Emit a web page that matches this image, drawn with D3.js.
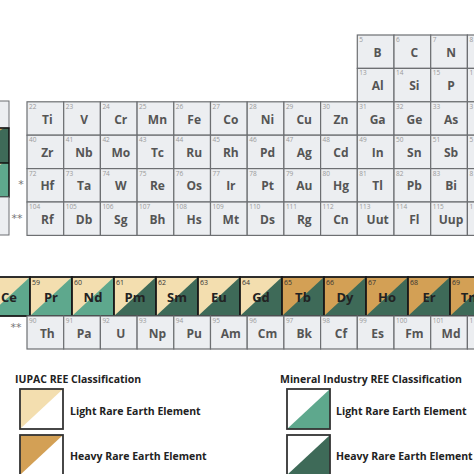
<!DOCTYPE html>
<html><head><meta charset="utf-8">
<script src="https://cdn.jsdelivr.net/npm/d3@7"></script>
<style>body{margin:0;background:#fff}svg{display:block}</style>
</head><body><svg id="c" width="474" height="474"></svg>
<script>
// main grid: [symbol, number, column, row]
const mainSymbols = [
 ["B",5,9,0],["C",6,10,0],["N",7,11,0],["O",8,12,0],
 ["Al",13,9,1],["Si",14,10,1],["P",15,11,1],["S",16,12,1],
 ["Ti",22,0,2],["V",23,1,2],["Cr",24,2,2],["Mn",25,3,2],["Fe",26,4,2],["Co",27,5,2],["Ni",28,6,2],["Cu",29,7,2],["Zn",30,8,2],["Ga",31,9,2],["Ge",32,10,2],["As",33,11,2],["Se",34,12,2],
 ["Zr",40,0,3],["Nb",41,1,3],["Mo",42,2,3],["Tc",43,3,3],["Ru",44,4,3],["Rh",45,5,3],["Pd",46,6,3],["Ag",47,7,3],["Cd",48,8,3],["In",49,9,3],["Sn",50,10,3],["Sb",51,11,3],["Te",52,12,3],
 ["Hf",72,0,4],["Ta",73,1,4],["W",74,2,4],["Re",75,3,4],["Os",76,4,4],["Ir",77,5,4],["Pt",78,6,4],["Au",79,7,4],["Hg",80,8,4],["Tl",81,9,4],["Pb",82,10,4],["Bi",83,11,4],["Po",84,12,4],
 ["Rf",104,0,5],["Db",105,1,5],["Sg",106,2,5],["Bh",107,3,5],["Hs",108,4,5],["Mt",109,5,5],["Ds",110,6,5],["Rg",111,7,5],["Cn",112,8,5],["Uut",113,9,5],["Fl",114,10,5],["Uup",115,11,5],["Lv",116,12,5]
];
const lanthanides = ["Ce","Pr","Nd","Pm","Sm","Eu","Gd","Tb","Dy","Ho","Er","Tm"];
const lanthNumbers = [58,59,60,61,62,63,64,65,66,67,68,69];
const iupacClass = ["L","L","L","L","L","L","L","H","H","H","H","H"];
const industryClass = ["L","L","L","H","H","H","H","H","H","H","H","H"];
const actinides = ["Th","Pa","U","Np","Pu","Am","Cm","Bk","Cf","Es","Fm","Md","No"];
const actNumbers = [90,91,92,93,94,95,96,97,98,99,100,101,102];
const legendLabels = ["Light Rare Earth Element","Heavy Rare Earth Element"];

const col = {iupacL:"#f3deaf", iupacH:"#d3a055", indL:"#5ea88d", indH:"#3e6a58", cell:"#eceef1", border:"#6d6f72"};
const svg = d3.select("#c");
const x = d3.scaleLinear().domain([0,13]).range([27, 27+13*36.7]);
const y = d3.scaleLinear().domain([0,6]).range([35, 35+6*33.4]);
const cw = 36.7, ch = 33.4;

function grayCell(g, sym, num, x0, y0, w, h, showSym){
  g.append("rect").attr("x",x0).attr("y",y0).attr("width",w).attr("height",h)
   .attr("fill",col.cell).attr("stroke",col.border).attr("stroke-width",1.2);
  g.append("text").attr("x",x0+2).attr("y",y0+7).attr("font-size",6.5).attr("fill","#999")
   .attr("font-family","Open Sans, sans-serif").text(showSym ? num : String(num).slice(0,1));
  if (showSym) g.append("text").attr("x",x0+w/2+2).attr("y",y0+h/2+5).attr("text-anchor","middle")
   .attr("font-size",12).attr("font-weight","bold").attr("fill","#555")
   .attr("font-family","Open Sans, sans-serif").text(sym);
}
const gm = svg.append("g");
mainSymbols.forEach(d=>grayCell(gm,d[0],d[1],x(d[2]),y(d[3]),cw,ch,d[2]<12));

// left partial column (group 3)
const lc = svg.append("g");
lc.append("rect").attr("x",-30).attr("y",101).attr("width",39).attr("height",27).attr("fill",col.cell).attr("stroke",col.border);
lc.append("path").attr("d","M-30,128 H9 V163 H-30Z").attr("fill",col.indH);
lc.append("path").attr("d","M-30,128 H4 L-30,150Z").attr("fill",col.iupacH);
lc.append("path").attr("d","M-30,163 H9 V197 H-30Z").attr("fill",col.indL);
lc.append("path").attr("d","M-30,163 H3 L-30,185Z").attr("fill",col.iupacL);
lc.append("rect").attr("x",-30).attr("y",128).attr("width",39).attr("height",69).attr("fill","none").attr("stroke","#111").attr("stroke-width",1.5);
lc.append("line").attr("x1",-30).attr("x2",9).attr("y1",163).attr("y2",163).attr("stroke","#111").attr("stroke-width",1.5);
lc.append("rect").attr("x",-30).attr("y",197).attr("width",39).attr("height",38).attr("fill",col.cell).attr("stroke",col.border);

const star = (t,tx,ty)=>svg.append("text").attr("x",tx).attr("y",ty).attr("font-size",11).attr("fill","#777").attr("text-anchor","middle").attr("font-family","DejaVu Sans").text(t);
star("*",21,188); star("**",17,222); star("**",16,331);

// lanthanides
const lx = d3.scaleLinear().domain([0,12]).range([-12,-12+12*42]);
const ly0 = 277, lh = 39;
const gl = svg.append("g");
lanthanides.forEach((s,i)=>{
  const x0 = lx(i), w = 42;
  gl.append("rect").attr("x",x0).attr("y",ly0).attr("width",w).attr("height",lh).attr("fill",industryClass[i]==="L"?col.indL:col.indH);
  gl.append("path").attr("d",`M${x0},${ly0} H${x0+w} L${x0},${ly0+lh}Z`)
    .attr("fill",iupacClass[i]==="L"?col.iupacL:col.iupacH);
  gl.append("rect").attr("x",x0).attr("y",ly0).attr("width",w).attr("height",lh).attr("fill","none").attr("stroke","#1a1a1a").attr("stroke-width",1.8);
  gl.append("text").attr("x",x0+2).attr("y",ly0+8).attr("font-size",7).attr("fill","#333").attr("font-family","Open Sans, sans-serif").text(lanthNumbers[i]);
  gl.append("text").attr("x",x0+w/2).attr("y",ly0+lh/2+5).attr("text-anchor","middle").attr("font-size",13).attr("font-weight","bold").attr("fill","#222").attr("font-family","Open Sans, sans-serif").text(s);
});

// actinides
const ga = svg.append("g");
actinides.forEach((s,i)=>grayCell(ga,s,actNumbers[i],x(i),316,cw,33,i<12));

// legend
const lg = svg.append("g").attr("font-family","Open Sans, sans-serif").attr("font-weight","bold").attr("fill","#222");
lg.append("text").attr("x",15).attr("y",383).attr("font-size",10.5).text("IUPAC REE Classification");
lg.append("text").attr("x",280).attr("y",383).attr("font-size",10.5).text("Mineral Industry REE Classification");
function legBox(x0,y0,color,upper){
  const w=43,h=40;
  const g = svg.append("g");
  g.append("rect").attr("x",x0).attr("y",y0).attr("width",w).attr("height",h).attr("fill","#fff");
  const d = upper ? `M${x0},${y0} H${x0+w} L${x0},${y0+h}Z` : `M${x0+w},${y0} V${y0+h} H${x0}Z`;
  g.append("path").attr("d",d).attr("fill",color);
  g.append("rect").attr("x",x0).attr("y",y0).attr("width",w).attr("height",h).attr("fill","none").attr("stroke","#333").attr("stroke-width",1.8);
}
legBox(20,389,col.iupacL,true); legBox(20,435,col.iupacH,true);
legBox(287,389,col.indL,false); legBox(287,435,col.indH,false);
lg.append("text").attr("x",70).attr("y",415).attr("font-size",10.5).text(legendLabels[0]);
lg.append("text").attr("x",70).attr("y",460).attr("font-size",10.5).text(legendLabels[1]);
lg.append("text").attr("x",336).attr("y",415).attr("font-size",10.5).text(legendLabels[0]);
lg.append("text").attr("x",336).attr("y",460).attr("font-size",10.5).text(legendLabels[1]);
</script></body></html>
